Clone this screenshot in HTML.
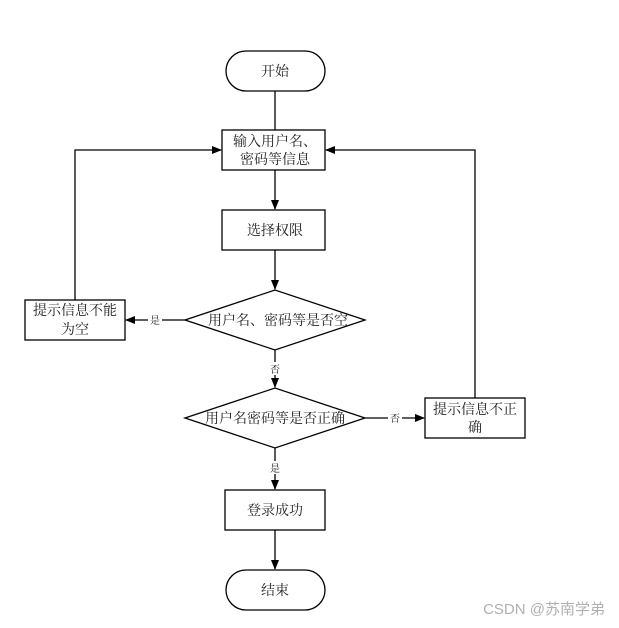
<!DOCTYPE html>
<html><head><meta charset="utf-8"><style>
html,body{margin:0;padding:0;background:#fff;}
svg{display:block;}
text{font-family:"Liberation Serif","Noto Serif CJK SC","Noto Sans CJK SC",serif;fill:#222;}
</style></head><body>
<svg width="619" height="628" viewBox="0 0 619 628" xmlns="http://www.w3.org/2000/svg">
<defs><marker id="a" markerWidth="10" markerHeight="8" refX="9" refY="4" orient="auto" markerUnits="userSpaceOnUse"><path d="M0,0 L10,4 L0,8z" fill="#000"/></marker></defs>
<g stroke="#000" stroke-width="1.3" fill="none">
<rect x="226" y="51" width="99" height="40" rx="20"/>
<rect x="222" y="130" width="103" height="40"/>
<rect x="222" y="210" width="103" height="40"/>
<polygon points="185,320 275,290 365,320 275,350"/>
<rect x="25" y="300" width="100" height="40"/>
<polygon points="185,418 275,388 365,418 275,448"/>
<rect x="425" y="398" width="100" height="40"/>
<rect x="225" y="490" width="100" height="40"/>
<rect x="226" y="570" width="99" height="40" rx="20"/>
<line x1="275" y1="91" x2="275" y2="130"/>
<line x1="275" y1="170" x2="275" y2="209" marker-end="url(#a)"/>
<line x1="275" y1="250" x2="275" y2="289" marker-end="url(#a)"/>
<line x1="275" y1="350" x2="275" y2="387" marker-end="url(#a)"/>
<line x1="185" y1="320" x2="126" y2="320" marker-end="url(#a)"/>
<polyline points="75,300 75,150 221,150" marker-end="url(#a)"/>
<line x1="365" y1="418" x2="424" y2="418" marker-end="url(#a)"/>
<polyline points="475,398 475,150 326,150" marker-end="url(#a)"/>
<line x1="275" y1="448" x2="275" y2="489" marker-end="url(#a)"/>
<line x1="275" y1="530" x2="275" y2="569" marker-end="url(#a)"/>
</g>
<g font-size="14" text-anchor="middle">
<text x="275" y="76">开始</text>
<text x="275" y="146">输入用户名、</text>
<text x="275" y="164">密码等信息</text>
<text x="275" y="235">选择权限</text>
<text x="278" y="325">用户名、密码等是否空</text>
<text x="75" y="315">提示信息不能</text>
<text x="75" y="334">为空</text>
<text x="275" y="423">用户名密码等是否正确</text>
<text x="475" y="414">提示信息不正</text>
<text x="475" y="432">确</text>
<text x="275" y="515">登录成功</text>
<text x="275" y="595">结束</text>
</g>
<g font-size="10" text-anchor="middle">
<rect x="148" y="313" width="14" height="13" fill="#fff"/>
<text x="155" y="324">是</text>
<rect x="268" y="362" width="14" height="13" fill="#fff"/>
<text x="275" y="373">否</text>
<rect x="388" y="411" width="14" height="13" fill="#fff"/>
<text x="395" y="422">否</text>
<rect x="268" y="461" width="14" height="13" fill="#fff"/>
<text x="275" y="472">是</text>
</g>
<text x="605" y="614" text-anchor="end" font-size="15" style="font-family:'Liberation Sans','Noto Sans CJK SC',sans-serif;fill:#b0b0b0">CSDN @苏南学弟</text>
</svg>
</body></html>
